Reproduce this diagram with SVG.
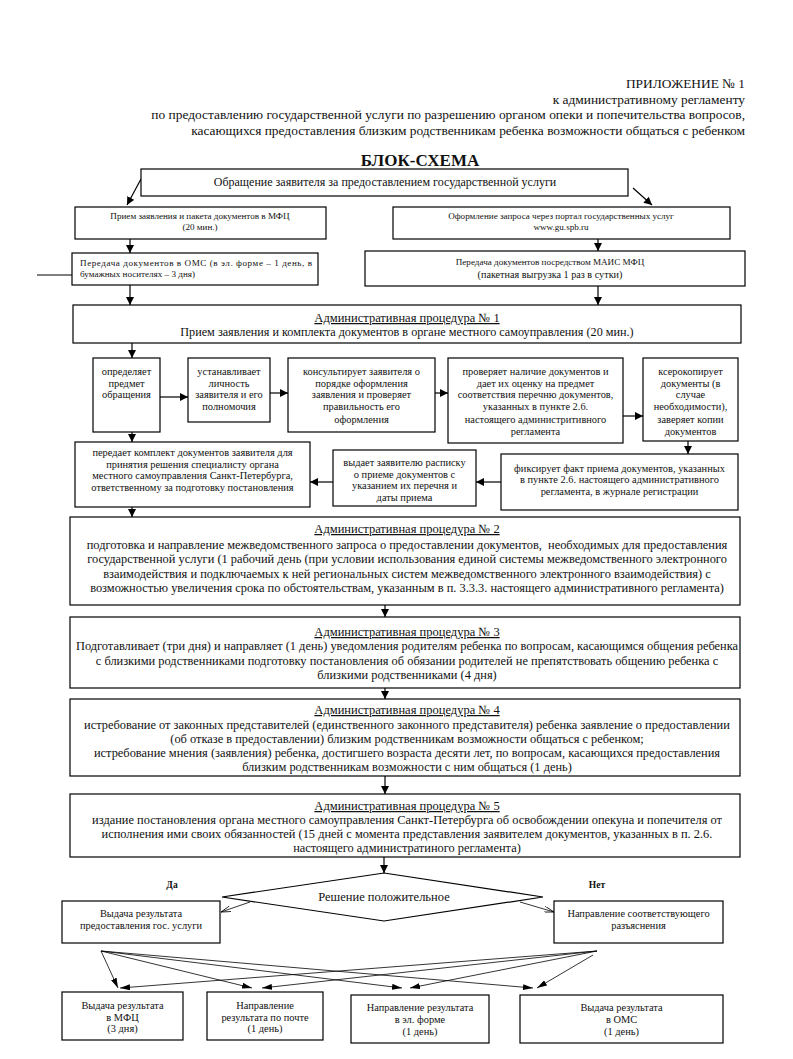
<svg xmlns="http://www.w3.org/2000/svg" width="793" height="1059" viewBox="0 0 793 1059">
<style>
text{font-family:"Liberation Serif","Times New Roman",serif;fill:#111}
.hd{font-size:13.4px;text-anchor:end}
.box{fill:#fff;stroke:#000;stroke-width:1.2}
.c{text-anchor:middle}
.t12{font-size:12px}
.t9{font-size:9.1px}
.t10{font-size:10.4px}
.ttl{font-size:12.5px;text-decoration:underline}
.pb{font-size:12.4px}
.ln{stroke:#000;stroke-width:1.2;fill:none}
.lt{stroke:#000;stroke-width:0.8;fill:none}
</style>
<defs>
<marker id="ah" viewBox="0 0 10 10" refX="10" refY="5" markerWidth="8" markerHeight="8" markerUnits="userSpaceOnUse" orient="auto"><path d="M0,0 L10,5 L0,10 z" fill="#000"/></marker>
<marker id="as" viewBox="0 0 10 6" refX="10" refY="3" markerWidth="10" markerHeight="6" markerUnits="userSpaceOnUse" orient="auto"><path d="M0,0 L10,3 L0,6 z" fill="#000"/></marker>
<marker id="ao" viewBox="0 0 10 6" refX="10" refY="3" markerWidth="10" markerHeight="6" markerUnits="userSpaceOnUse" orient="auto"><path d="M0,0 L10,3 L0,6" fill="none" stroke="#000" stroke-width="0.8"/></marker>
</defs>
<rect width="793" height="1059" fill="#fff"/>

<g id="header">
<text class="hd" x="745" y="88">ПРИЛОЖЕНИЕ № 1</text>
<text class="hd" x="745" y="104">к административному регламенту</text>
<text class="hd" x="745" y="119">по предоставлению государственной услуги по разрешению органом опеки и попечительства вопросов,</text>
<text class="hd" x="745" y="135">касающихся предоставления близким родственникам ребенка возможности общаться с ребенком</text>
<text x="420" y="166" class="c" style="font-size:17px;font-weight:bold">БЛОК-СХЕМА</text>
</g>

<g id="connectors">
<line class="ln" x1="141" y1="179" x2="127" y2="205" marker-end="url(#ah)"/>
<line class="ln" x1="633" y1="188" x2="652" y2="205" marker-end="url(#ah)"/>
<line class="ln" x1="130" y1="239" x2="130" y2="253" marker-end="url(#ah)"/>
<line class="ln" x1="598" y1="239" x2="598" y2="251" marker-end="url(#ah)"/>
<line class="ln" x1="130" y1="285" x2="130" y2="305" marker-end="url(#ah)"/>
<line class="ln" x1="598" y1="286" x2="598" y2="305" marker-end="url(#ah)"/>
<line class="ln" x1="37" y1="275" x2="72" y2="275"/>
<line class="ln" x1="132" y1="343" x2="132" y2="358" marker-end="url(#ah)"/>
<line class="ln" x1="160" y1="397" x2="188" y2="397" marker-end="url(#ah)"/>
<line class="ln" x1="270" y1="393" x2="288" y2="393" marker-end="url(#ah)"/>
<line class="ln" x1="435" y1="393" x2="448" y2="393" marker-end="url(#ah)"/>
<line class="ln" x1="623" y1="416" x2="643" y2="416" marker-end="url(#ah)"/>
<line class="ln" x1="688" y1="441" x2="688" y2="454" marker-end="url(#ah)"/>
<line class="ln" x1="501" y1="482" x2="476" y2="482" marker-end="url(#ah)"/>
<line class="ln" x1="333" y1="482" x2="310" y2="482" marker-end="url(#ah)"/>
<line class="ln" x1="132" y1="432" x2="132" y2="442" marker-end="url(#ah)"/>
<line class="ln" x1="132" y1="507" x2="132" y2="517" marker-end="url(#ah)"/>
<line class="ln" x1="385" y1="605" x2="385" y2="617" marker-end="url(#ah)"/>
<line class="ln" x1="385" y1="688" x2="385" y2="699" marker-end="url(#ah)"/>
<line class="ln" x1="385" y1="776" x2="385" y2="794" marker-end="url(#ah)"/>
<line class="ln" x1="384" y1="857" x2="384" y2="873" marker-end="url(#ah)"/>
<line class="lt" x1="250" y1="902" x2="221" y2="912" marker-end="url(#ao)"/>
<line class="lt" x1="520" y1="902" x2="554" y2="912" marker-end="url(#ao)"/>
<line class="lt" x1="101" y1="951" x2="118" y2="988" marker-end="url(#as)"/>
<line class="lt" x1="101" y1="951" x2="252" y2="988" marker-end="url(#as)"/>
<line class="lt" x1="101" y1="951" x2="402" y2="988" marker-end="url(#as)"/>
<line class="lt" x1="101" y1="951" x2="533" y2="988" marker-end="url(#as)"/>
<line class="lt" x1="597" y1="951" x2="120" y2="988" marker-end="url(#as)"/>
<line class="lt" x1="597" y1="951" x2="262" y2="988" marker-end="url(#as)"/>
<line class="lt" x1="597" y1="951" x2="410" y2="988" marker-end="url(#as)"/>
<line class="lt" x1="593" y1="955" x2="537" y2="988" marker-end="url(#as)"/>
</g>

<g id="n-appeal">
<rect class="box" x="141" y="169" width="487" height="27"/>
<text class="c t12" x="385" y="186">Обращение заявителя за предоставлением государственной услуги</text>
</g>
<g id="n-mfc">
<rect class="box" x="75" y="207" width="251" height="32"/>
<text class="c t9" x="200" y="219">Прием заявления и пакета документов в МФЦ</text>
<text class="c t9" x="200" y="230">(20 мин.)</text>
</g>
<g id="n-portal">
<rect class="box" x="393" y="207" width="337" height="32"/>
<text class="c t9" x="561" y="219">Оформление запроса через портал государственных услуг</text>
<text class="c t9" x="561" y="230">www.gu.spb.ru</text>
</g>
<g id="n-oms">
<rect class="box" x="72" y="253" width="246" height="32"/>
<text class="t9" x="80" y="266" textLength="232" lengthAdjust="spacing">Передача документов в ОМС (в эл. форме – 1 день, в</text>
<text class="t9" x="80" y="277">бумажных носителях – 3 дня)</text>
</g>
<g id="n-mais">
<rect class="box" x="365" y="251" width="380" height="35"/>
<text class="c t9" x="550" y="265">Передача документов посредством МАИС МФЦ</text>
<text class="c" style="font-size:10.2px" x="550" y="278">(пакетная выгрузка 1 раз в сутки)</text>
</g>
<g id="n-proc1">
<rect class="box" x="73" y="305" width="668" height="38"/>
<text class="c ttl" x="407" y="322">Административная процедура № 1</text>
<text class="c" style="font-size:12.2px" x="407" y="336">Прием заявления и комплекта документов в органе местного самоуправления (20 мин.)</text>
</g>
<g id="n-d1">
<rect class="box" x="93" y="358" width="67" height="74"/>
<text class="c t10" x="126.5" y="375">определяет</text>
<text class="c t10" x="126.5" y="386.7">предмет</text>
<text class="c t10" x="126.5" y="398.4">обращения</text>
</g>
<g id="n-d2">
<rect class="box" x="188" y="358" width="82" height="64"/>
<text class="c t10" x="229" y="375">устанавливает</text>
<text class="c t10" x="229" y="386.7">личность</text>
<text class="c t10" x="229" y="398.4">заявителя и его</text>
<text class="c t10" x="229" y="410.1">полномочия</text>
</g>
<g id="n-d3">
<rect class="box" x="288" y="358" width="147" height="74"/>
<text class="c t10" x="361.5" y="375">консультирует заявителя о</text>
<text class="c t10" x="361.5" y="386.7">порядке оформления</text>
<text class="c t10" x="361.5" y="398.4">заявления и проверяет</text>
<text class="c t10" x="361.5" y="410.1">правильность его</text>
<text class="c t10" x="361.5" y="422.8">оформления</text>
</g>
<g id="n-d4">
<rect class="box" x="448" y="358" width="175" height="85"/>
<text class="c t10" x="535.5" y="375">проверяет наличие документов и</text>
<text class="c t10" x="535.5" y="386.7">дает их оценку на предмет</text>
<text class="c t10" x="535.5" y="398.4">соответствия перечню документов,</text>
<text class="c t10" x="535.5" y="410.1">указанных в пункте 2.6.</text>
<text class="c t10" x="535.5" y="422.8">настоящего администритивного</text>
<text class="c t10" x="535.5" y="434.5">регламента</text>
</g>
<g id="n-d5">
<rect class="box" x="643" y="358" width="95" height="83"/>
<text class="c t10" x="690.5" y="375">ксерокопирует</text>
<text class="c t10" x="690.5" y="386.7">документы (в</text>
<text class="c t10" x="690.5" y="398.4">случае</text>
<text class="c t10" x="690.5" y="410.1">необходимости),</text>
<text class="c t10" x="690.5" y="422.8">заверяет копии</text>
<text class="c t10" x="690.5" y="434.5">документов</text>
</g>
<g id="n-e1">
<rect class="box" x="75" y="442" width="235" height="65"/>
<text class="c t10" x="192.5" y="456">передает комплект документов заявителя для</text>
<text class="c t10" x="192.5" y="467.5">принятия решения специалисту органа</text>
<text class="c t10" x="192.5" y="479">местного самоуправления Санкт-Петербурга,</text>
<text class="c t10" x="192.5" y="490.5">ответственному за подготовку постановления</text>
</g>
<g id="n-e2">
<rect class="box" x="333" y="450" width="143" height="56"/>
<text class="c t10" x="404.5" y="466">выдает заявителю расписку</text>
<text class="c t10" x="404.5" y="477.5">о приеме документов с</text>
<text class="c t10" x="404.5" y="489">указанием их перечня и</text>
<text class="c t10" x="404.5" y="500.5">даты приема</text>
</g>
<g id="n-e3">
<rect class="box" x="501" y="454" width="237" height="56"/>
<text class="c t10" x="619.5" y="471.5">фиксирует факт приема документов, указанных</text>
<text class="c t10" x="619.5" y="483">в пункте 2.6. настоящего административного</text>
<text class="c t10" x="619.5" y="494.5">регламента, в журнале регистрации</text>
</g>
<g id="n-proc2">
<rect class="box" x="70" y="517" width="670" height="88"/>
<text class="c ttl" x="407" y="533">Административная процедура № 2</text>
<text class="c pb" x="407" y="549" xml:space="preserve">подготовка и направление межведомственного запроса о предоставлении документов,  необходимых для предоставления</text>
<text class="c pb" x="407" y="563">государственной услуги (1 рабочий день (при условии использования единой системы межведомственного электронного</text>
<text class="c pb" x="407" y="577.5">взаимодействия и подключаемых к ней региональных систем межведомственного электронного взаимодействия) с</text>
<text class="c pb" x="407" y="592">возможностью увеличения срока по обстоятельствам, указанным в п. 3.3.3. настоящего административного регламента)</text>
</g>
<g id="n-proc3">
<rect class="box" x="70" y="617" width="670" height="71"/>
<text class="c ttl" x="407" y="636">Административная процедура № 3</text>
<text class="c pb" x="407" y="650">Подготавливает (три дня) и направляет (1 день) уведомления родителям ребенка по вопросам, касающимся общения ребенка</text>
<text class="c pb" x="407" y="665">с близкими родственниками подготовку постановления об обязании родителей не препятствовать общению ребенка с</text>
<text class="c pb" x="407" y="679">близкими родственниками (4 дня)</text>
</g>
<g id="n-proc4">
<rect class="box" x="70" y="699" width="670" height="77"/>
<text class="c ttl" x="407" y="714">Административная процедура № 4</text>
<text class="c pb" x="407" y="729">истребование от законных представителей (единственного законного представителя) ребенка заявление о предоставлении</text>
<text class="c pb" x="407" y="743">(об отказе в предоставлении) близким родственникам возможности общаться с ребенком;</text>
<text class="c pb" x="407" y="757">истребование мнения (заявления) ребенка, достигшего возраста десяти лет, по вопросам, касающихся предоставления</text>
<text class="c pb" x="407" y="771">близким родственникам возможности с ним общаться (1 день)</text>
</g>
<g id="n-proc5">
<rect class="box" x="70" y="794" width="670" height="63"/>
<text class="c ttl" x="407" y="810">Административная процедура № 5</text>
<text class="c pb" x="407" y="824">издание постановления органа местного самоуправления Санкт-Петербурга об освобождении опекуна и попечителя от</text>
<text class="c pb" x="407" y="838">исполнения ими своих обязанностей (15 дней с момента представления заявителем документов, указанных в п. 2.6.</text>
<text class="c pb" x="407" y="852">настоящего администратиного регламента)</text>
</g>
<g id="n-decision">
<polygon class="box" points="384,873 543,897 384,921 222,897"/>
<text class="c" style="font-size:12.5px" x="384" y="901">Решение положительное</text>
<text class="c" style="font-size:9.5px;font-weight:bold" x="172" y="888">Да</text>
<text class="c" style="font-size:9.5px;font-weight:bold" x="597" y="888">Нет</text>
</g>
<g id="n-yes">
<rect class="box" x="62" y="901" width="158" height="42"/>
<text class="c t10" x="141" y="917">Выдача результата</text>
<text class="c t10" x="141" y="929">предоставления гос. услуги</text>
</g>
<g id="n-no">
<rect class="box" x="554" y="901" width="169" height="42"/>
<text class="c t10" x="638.5" y="917">Направление соответствующего</text>
<text class="c t10" x="638.5" y="929">разъяснения</text>
</g>
<g id="n-f1">
<rect class="box" x="62" y="992" width="121" height="48"/>
<text class="c t10" x="122.5" y="1009">Выдача результата</text>
<text class="c t10" x="122.5" y="1020.5">в МФЦ</text>
<text class="c t10" x="122.5" y="1032">(3 дня)</text>
</g>
<g id="n-f2">
<rect class="box" x="207" y="992" width="116" height="48"/>
<text class="c t10" x="265" y="1009">Направление</text>
<text class="c t10" x="265" y="1020.5">результата по почте</text>
<text class="c t10" x="265" y="1032">(1 день)</text>
</g>
<g id="n-f3">
<rect class="box" x="351" y="995" width="138" height="48"/>
<text class="c t10" x="420" y="1011">Направление результата</text>
<text class="c t10" x="420" y="1023">в эл. форме</text>
<text class="c t10" x="420" y="1035">(1 день)</text>
</g>
<g id="n-f4">
<rect class="box" x="520" y="995" width="203" height="48"/>
<text class="c t10" x="621.5" y="1011">Выдача результата</text>
<text class="c t10" x="621.5" y="1023">в ОМС</text>
<text class="c t10" x="621.5" y="1035">(1 день)</text>
</g>
</svg>
